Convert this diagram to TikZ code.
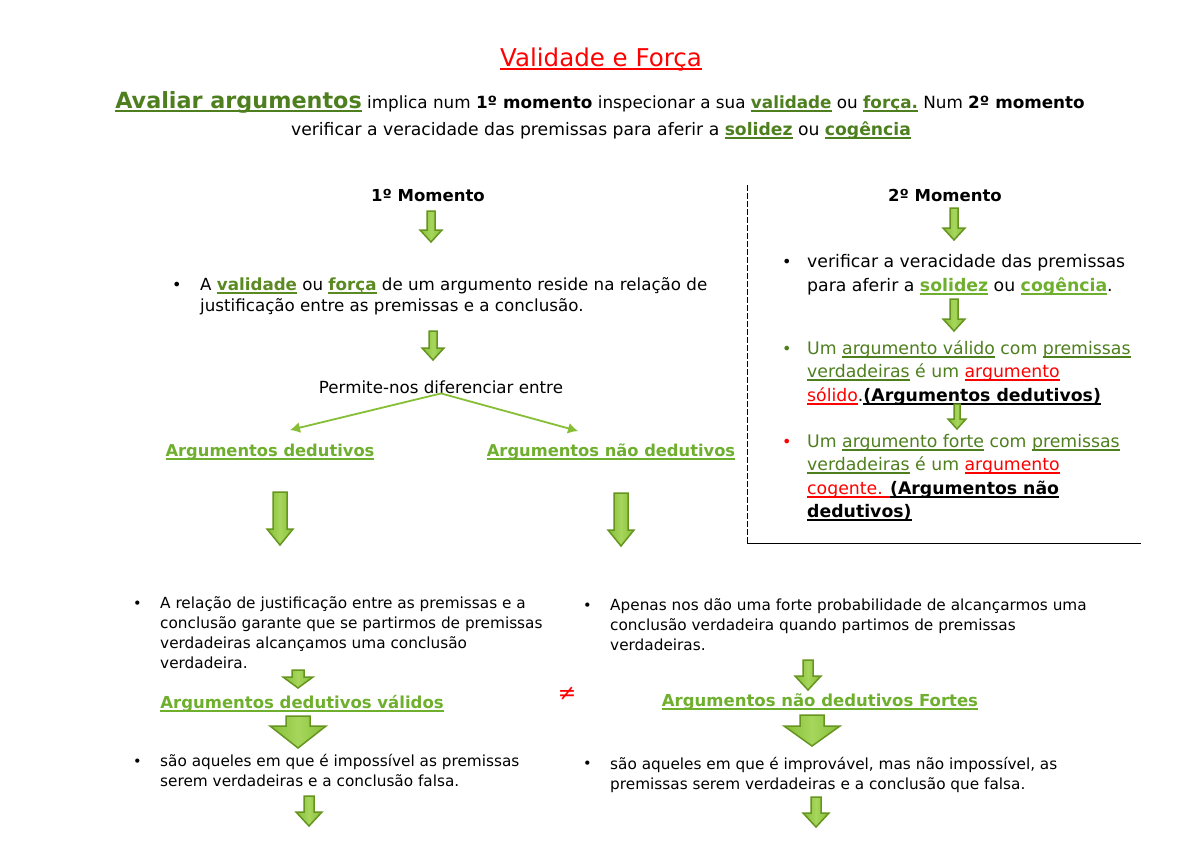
\documentclass[tikz,border=0pt]{standalone}
\usepackage{fontspec}
\setmainfont{DejaVu Sans}
\usepackage{tikz}
\usetikzlibrary{positioning,arrows.meta}

\definecolor{redtxt}{HTML}{FF0000}
\definecolor{dgreen}{HTML}{4E7F1E}
\definecolor{olivetxt}{HTML}{5B8A22}
\definecolor{lgreen}{HTML}{6FAF2E}
\definecolor{arrowfill}{HTML}{86BE36}
\definecolor{arrowlight}{HTML}{A6D65C}
\definecolor{arrowdraw}{HTML}{66951F}

% underline in the current colour
\newcommand\ulin[1]{\setbox0\hbox{#1}\rlap{\rule[-3.5pt]{\wd0}{1.6pt}}\box0\relax}

\begin{document}
\begin{tikzpicture}[x=1pt,y=-1pt]
	\tikzstyle{para}=[inner sep=0pt,anchor=base west,align=left,font=\fontsize{16.7}{21}\selectfont]
	\tikzstyle{rpara}=[para,font=\fontsize{17.3}{23.5}\selectfont]
	\tikzstyle{lowpara}=[para,font=\fontsize{15.3}{20}\selectfont]
	\tikzstyle{bul}=[inner sep=0pt,anchor=base west,font=\fontsize{16}{21}\selectfont]
	\tikzstyle{mom}=[inner sep=0pt,anchor=base,font=\bfseries\fontsize{16.5}{21}\selectfont]
	\tikzstyle{head}=[inner sep=0pt,anchor=base,text=lgreen,font=\bfseries\fontsize{16.3}{20}\selectfont]
	\tikzstyle{arrowbody}=[draw=arrowdraw,line width=1.5pt,left color=arrowfill,right color=arrowfill,middle color=arrowlight]
	\tikzstyle{split}=[-{Latex[length=10pt,width=11pt]},draw=arrowfill,line width=1.8pt]
	\tikzset{pics/garrow/.style n args={4}{code={
		\path[arrowbody] (-#2,0) -- (#2,0) -- (#2,#1-#4) -- (#3,#1-#4) -- (0,#1)
			-- (-#3,#1-#4) -- (-#2,#1-#4) -- cycle;}}}
	\useasboundingbox (0,0) rectangle (1200,849);
	\fill[white] (0,0) rectangle (1200,849);

	% title and introduction
	\node[inner sep=0pt,anchor=base,text=redtxt,font=\fontsize{24.5}{28}\selectfont] (title) at (601,66) {\ulin{Validade e Força}};
	\node[inner sep=0pt,anchor=base,font=\fontsize{16.8}{21}\selectfont] (intro1) at (600,108)
		{\textcolor{dgreen}{\ulin{\bfseries\fontsize{22.3}{26}\selectfont Avaliar argumentos}} implica num \textbf{1º momento} inspecionar a sua \textcolor{dgreen}{\ulin{\textbf{validade}}} ou \textcolor{dgreen}{\ulin{\textbf{força.}}} Num \textbf{2º momento}};
	\node[inner sep=0pt,anchor=base,font=\fontsize{17.2}{21}\selectfont] (intro2) at (601,135)
		{verificar a veracidade das premissas para aferir a \textcolor{dgreen}{\ulin{\textbf{solidez}}} ou \textcolor{dgreen}{\ulin{\textbf{cogência}}}};

	% 1st moment
	\node[mom] (mom1) at (428,201) {1º Momento};
	\pic at (431,211) {garrow={31}{4}{11}{12}};
	\node[bul] (b1) at (172,290) {•};
	\node[para] (p1) at (200,311) {A \textcolor{olivetxt}{\ulin{\textbf{validade}}} ou \textcolor{olivetxt}{\ulin{\textbf{força}}} de um argumento reside na relação de\\justificação entre as premissas e a conclusão.};
	\pic at (433,331) {garrow={29}{4}{11}{12}};
	\node[inner sep=0pt,anchor=base,font=\fontsize{16.7}{21}\selectfont] (permite) at (441,393) {Permite-nos diferenciar entre};
	\coordinate (splitL) at (290,430);
	\coordinate (splitR) at (578,431);
	\draw[split] (permite.south) -- (splitL);
	\draw[split] (permite.south) -- (splitR);
	\node[head] (dedu) at (270,456) {\ulin{Argumentos dedutivos}};
	\node[head] (naodedu) at (611,456) {\ulin{Argumentos não dedutivos}};
	\pic at (280,492) {garrow={53}{7}{13}{16}};
	\pic at (621,493) {garrow={53}{7}{13}{16}};

	% frame of the 2nd moment
	\draw[dash pattern=on 6pt off 2pt,line width=1pt] (747,185) -- (747,543);
	\draw[line width=1pt] (747,543) -- (1141,543);

	% 2nd moment
	\node[mom] (mom2) at (945,201) {2º Momento};
	\pic at (954,208) {garrow={32}{4}{11}{12}};
	\node[bul] (b2) at (782,267) {•};
	\node[rpara,font=\fontsize{17.3}{24}\selectfont] (p2) at (807,291) {verificar a veracidade das premissas\\para aferir a \textcolor{lgreen}{\ulin{\textbf{solidez}}} ou \textcolor{lgreen}{\ulin{\textbf{cogência}}}.};
	\pic at (954,299) {garrow={32}{4}{11}{12}};
	\node[bul,text=dgreen] (b3) at (782,354) {•};
	\node[rpara,text=dgreen] (p3) at (807,401) {Um \ulin{argumento válido} com \ulin{premissas}\\\ulin{verdadeiras} é um \textcolor{redtxt}{\ulin{argumento}}\\\textcolor{redtxt}{\ulin{sólido}}\textcolor{black}{.\ulin{\textbf{(Argumentos dedutivos)}}}};
	\pic at (957,404) {garrow={25}{3}{9}{10}};
	\node[bul,text=redtxt] (b4) at (782,447) {•};
	\node[rpara,text=dgreen] (p4) at (807,517.5) {Um \ulin{argumento forte} com \ulin{premissas}\\\ulin{verdadeiras} é um \textcolor{redtxt}{\ulin{argumento}}\\\textcolor{redtxt}{\ulin{cogente. }}\textcolor{black}{\ulin{\textbf{(Argumentos não}}}\\\textcolor{black}{\ulin{\textbf{dedutivos)}}}};

	% deductive side
	\node[bul,font=\fontsize{14.5}{20}\selectfont] (b5) at (133,608) {•};
	\node[lowpara] (p5) at (160,668) {A relação de justificação entre as premissas e a\\conclusão garante que se partirmos de premissas\\verdadeiras alcançamos uma conclusão\\verdadeira.};
	\pic at (298,670) {garrow={18}{6}{15}{11}};
	\node[head,font=\bfseries\fontsize{16.5}{20}\selectfont] (dedval) at (302,708) {\ulin{Argumentos dedutivos válidos}};
	\pic at (298,716) {garrow={32}{12}{28}{22}};
	\node[bul,font=\fontsize{14.5}{20}\selectfont] (b6) at (133,766) {•};
	\node[lowpara] (p6) at (160,786) {são aqueles em que é impossível as premissas\\serem verdadeiras e a conclusão falsa.};
	\pic at (309,796) {garrow={30}{5}{13}{14}};

	\node[inner sep=0pt,text=redtxt,font=\fontsize{22}{24}\selectfont] (neq) at (567,694) {≠};

	% non-deductive side
	\node[bul,font=\fontsize{14.5}{20}\selectfont] (b7) at (583,610) {•};
	\node[lowpara] (p7) at (610,650) {Apenas nos dão uma forte probabilidade de alcançarmos uma\\conclusão verdadeira quando partimos de premissas\\verdadeiras.};
	\pic at (808,660) {garrow={30}{5}{13}{14}};
	\node[head,font=\bfseries\fontsize{16.5}{20}\selectfont] (naoforte) at (820,706) {\ulin{Argumentos não dedutivos Fortes}};
	\pic at (812,715) {garrow={31}{12}{28}{20}};
	\node[bul,font=\fontsize{14.5}{20}\selectfont] (b8) at (583,768) {•};
	\node[lowpara] (p8) at (610,789) {são aqueles em que é improvável, mas não impossível, as\\premissas serem verdadeiras e a conclusão que falsa.};
	\pic at (816,797) {garrow={30}{5}{13}{14}};
\end{tikzpicture}
\end{document}
